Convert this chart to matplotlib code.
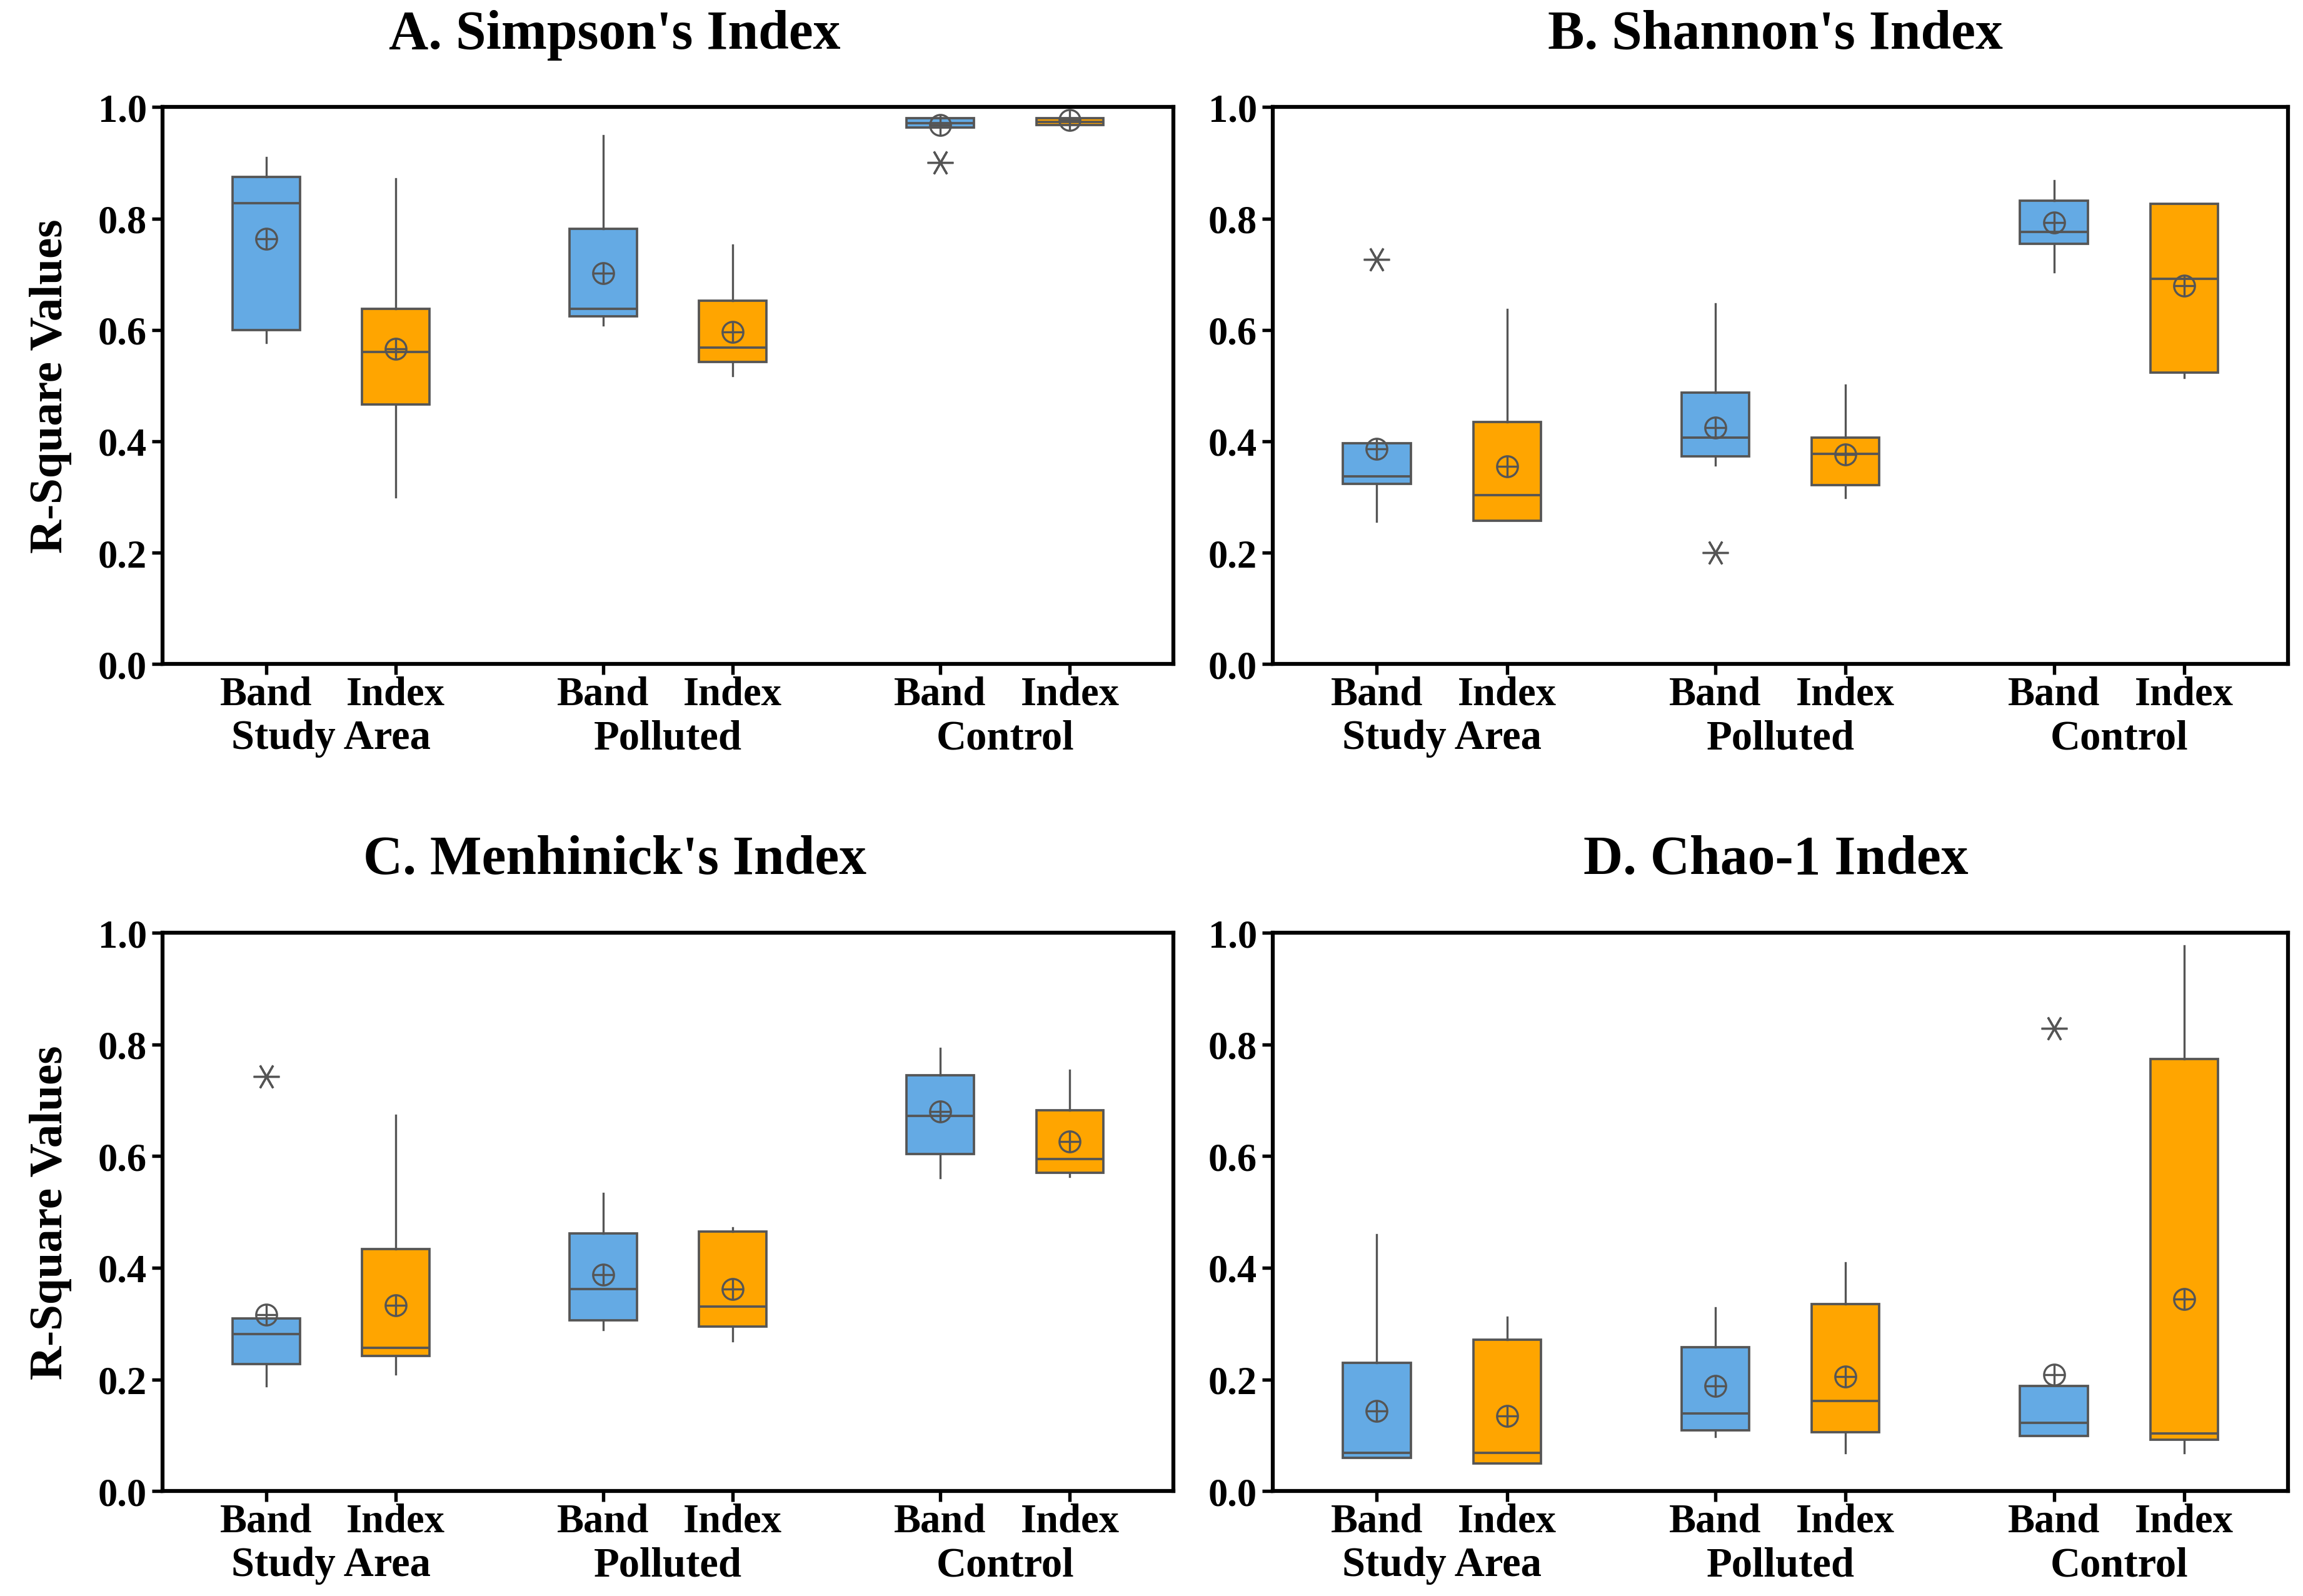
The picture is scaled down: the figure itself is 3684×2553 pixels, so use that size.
import matplotlib
matplotlib.use("Agg")
import matplotlib.pyplot as plt

plt.rcParams['font.family'] = ['Liberation Serif', 'DejaVu Serif']
plt.rcParams['font.weight'] = 'bold'

# box order: Study Area Band, Study Area Index, Polluted Band, Polluted Index, Control Band, Control Index
groups = ["Study Area", "Polluted", "Control"]
kinds = ["Band", "Index"]
titles = ["A. Simpson's Index", "B. Shannon's Index", "C. Menhinick's Index", "D. Chao-1 Index"]

# Simpson
simpson_q1 = [0.600, 0.466, 0.624, 0.543, 0.964, 0.968]
simpson_med = [0.828, 0.561, 0.638, 0.568, 0.971, 0.974]
simpson_q3 = [0.875, 0.638, 0.782, 0.652, 0.980, 0.980]
simpson_lo = [0.577, 0.300, 0.609, 0.518, 0.964, 0.968]
simpson_hi = [0.910, 0.872, 0.949, 0.752, 0.980, 0.980]
simpson_mean = [0.764, 0.566, 0.702, 0.596, 0.968, 0.977]
simpson_out = [[], [], [], [], [0.901], []]

# Shannon
shannon_q1 = [0.324, 0.257, 0.373, 0.321, 0.755, 0.524]
shannon_med = [0.337, 0.303, 0.407, 0.377, 0.776, 0.692]
shannon_q3 = [0.397, 0.435, 0.488, 0.407, 0.832, 0.826]
shannon_lo = [0.256, 0.257, 0.357, 0.299, 0.704, 0.515]
shannon_hi = [0.397, 0.637, 0.647, 0.501, 0.868, 0.826]
shannon_mean = [0.387, 0.355, 0.425, 0.376, 0.793, 0.680]
shannon_out = [[0.727], [], [0.200], [], [], []]

# Menhinick
menhinick_q1 = [0.228, 0.242, 0.306, 0.295, 0.604, 0.570]
menhinick_med = [0.281, 0.257, 0.362, 0.331, 0.672, 0.595]
menhinick_q3 = [0.309, 0.433, 0.462, 0.465, 0.745, 0.682]
menhinick_lo = [0.188, 0.210, 0.289, 0.269, 0.561, 0.563]
menhinick_hi = [0.309, 0.673, 0.533, 0.472, 0.793, 0.754]
menhinick_mean = [0.316, 0.333, 0.388, 0.362, 0.680, 0.626]
menhinick_out = [[0.743], [], [], [], [], []]

# Chao-1
chao_q1 = [0.060, 0.050, 0.109, 0.106, 0.099, 0.092]
chao_med = [0.068, 0.068, 0.139, 0.161, 0.122, 0.103]
chao_q3 = [0.230, 0.271, 0.258, 0.335, 0.188, 0.774]
chao_lo = [0.060, 0.050, 0.098, 0.068, 0.099, 0.068]
chao_hi = [0.459, 0.312, 0.328, 0.409, 0.188, 0.977]
chao_mean = [0.144, 0.135, 0.188, 0.205, 0.209, 0.344]
chao_out = [[], [], [], [], [0.829], []]

panels = [
    (simpson_q1, simpson_med, simpson_q3, simpson_lo, simpson_hi, simpson_mean, simpson_out),
    (shannon_q1, shannon_med, shannon_q3, shannon_lo, shannon_hi, shannon_mean, shannon_out),
    (menhinick_q1, menhinick_med, menhinick_q3, menhinick_lo, menhinick_hi, menhinick_mean, menhinick_out),
    (chao_q1, chao_med, chao_q3, chao_lo, chao_hi, chao_mean, chao_out),
]

BLUE = "#64aae4"
ORANGE = "#ffa500"
GREY = "#555555"
positions = [0, 1, 2.6, 3.6, 5.2, 6.2]

fig = plt.figure(figsize=(12.28, 8.513), dpi=300)
rects = [
    [0.0705, 0.5837, 0.4391, 0.3488],
    [0.5526, 0.5837, 0.4410, 0.3488],
    [0.0705, 0.0657, 0.4391, 0.3497],
    [0.5526, 0.0657, 0.4410, 0.3497],
]
title_pos = [(0.267, 0.978), (0.771, 0.978), (0.267, 0.461), (0.771, 0.461)]

for i, (q1, med, q3, lo, hi, mean, out) in enumerate(panels):
    ax = fig.add_axes(rects[i])
    stats = []
    for j in range(6):
        stats.append({"q1": q1[j], "med": med[j], "q3": q3[j],
                      "whislo": lo[j], "whishi": hi[j], "fliers": out[j]})
    bp = ax.bxp(stats, positions=positions, widths=0.52, patch_artist=True,
                showcaps=False, showfliers=True,
                boxprops=dict(edgecolor=GREY, linewidth=0.9),
                medianprops=dict(color=GREY, linewidth=0.9),
                whiskerprops=dict(color=GREY, linewidth=0.8),
                flierprops=dict(marker=(6, 2, 90), markersize=10,
                                markeredgecolor=GREY, markeredgewidth=0.8,
                                linestyle="none"))
    for j, box in enumerate(bp["boxes"]):
        box.set_facecolor(BLUE if j % 2 == 0 else ORANGE)
    # mean symbol: circle with cross
    ax.plot(positions, mean, linestyle="none", marker="o", markersize=8,
            markerfacecolor="none", markeredgecolor=GREY, markeredgewidth=0.8, zorder=5)
    ax.plot(positions, mean, linestyle="none", marker="+", markersize=8,
            markeredgecolor=GREY, markeredgewidth=0.8, zorder=5)

    ax.set_xlim(-0.8, 7.0)
    ax.set_ylim(0, 1.0)
    ax.set_yticks([0, 0.2, 0.4, 0.6, 0.8, 1.0])
    ax.set_yticklabels([f"{v:.1f}" for v in [0, 0.2, 0.4, 0.6, 0.8, 1.0]])
    ax.set_xticks(positions)
    ax.set_xticklabels(kinds * 3)
    ax.tick_params(axis="both", width=1.3, length=4, direction="out")
    ax.tick_params(axis="x", labelsize=15.5, pad=0.5)
    ax.tick_params(axis="y", labelsize=15, pad=2)
    for sp in ax.spines.values():
        sp.set_linewidth(1.5)
        sp.set_color("black")
    for g, name in enumerate(groups):
        ax.text((positions[2 * g] + positions[2 * g + 1]) / 2, -0.133, name,
                ha="center", va="center", fontsize=16, fontweight="bold",
                transform=ax.get_xaxis_transform())
    if i % 2 == 0:
        ax.set_ylabel("R-Square Values", fontsize=18, fontweight="bold", labelpad=10)
    fig.text(title_pos[i][0], title_pos[i][1], titles[i], ha="center", va="center",
             fontsize=21, fontweight="bold")

fig.savefig("out.png", dpi=300)
